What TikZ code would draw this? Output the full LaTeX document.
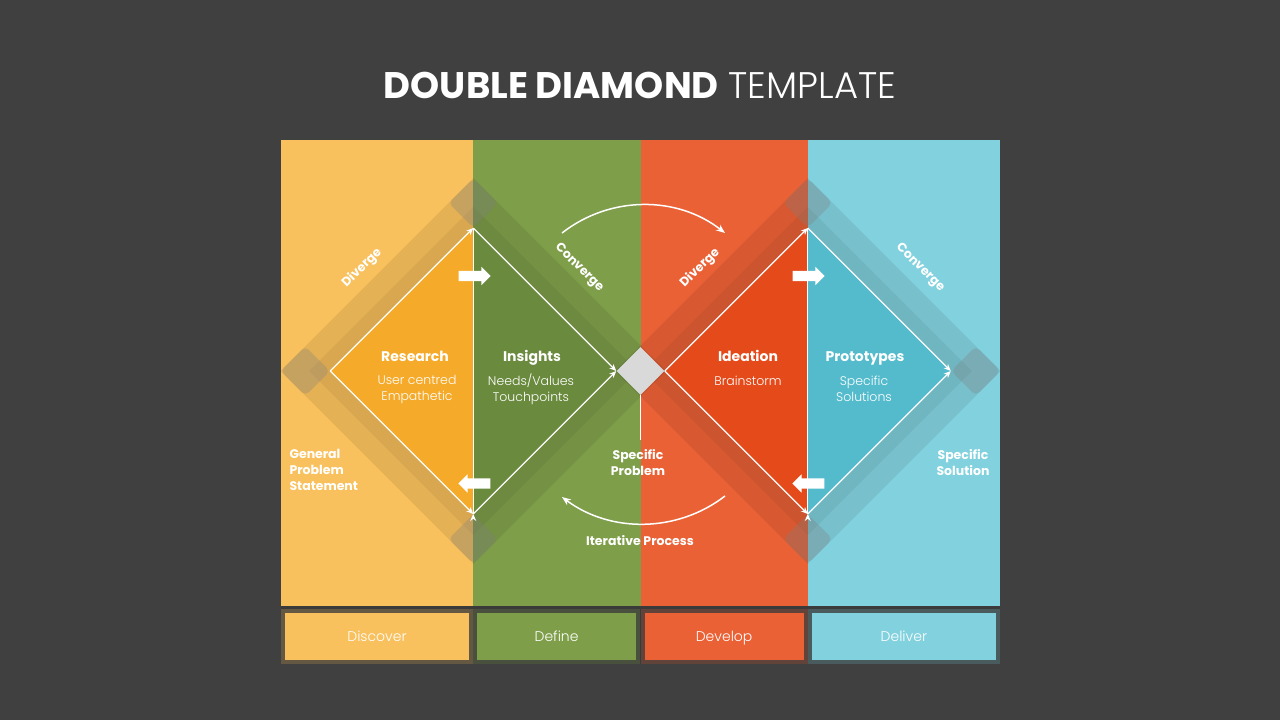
\documentclass[tikz,border=0pt]{standalone}
\usepackage{fontspec}
\setmainfont{Poppins}
\newfontfamily\thinfont{Poppins Light}
\usepackage{xcolor}
\usepackage{tikz}
\usetikzlibrary{positioning}
\usetikzlibrary{shapes.geometric, shapes.arrows, arrows.meta}

\definecolor{slate}{HTML}{404040}
\definecolor{barbg}{HTML}{3A3A3A}
\definecolor{discoverC}{HTML}{F9C15D}
\definecolor{defineC}{HTML}{7E9E4A}
\definecolor{developC}{HTML}{EB6136}
\definecolor{deliverC}{HTML}{82D1DE}
\definecolor{discoverIn}{HTML}{F5AA2A}
\definecolor{defineIn}{HTML}{6A8A3E}
\definecolor{developIn}{HTML}{E54B1A}
\definecolor{deliverIn}{HTML}{54BBCD}
\definecolor{hubgray}{HTML}{D9D9D9}

\tikzstyle{band} = [line width=35pt, draw=black, draw opacity=.08, line join=miter]
\tikzstyle{bandin} = [line width=15pt, draw=black, draw opacity=.05, line join=miter]
\tikzstyle{knob} = [shape=rectangle, rotate=45, minimum size=35pt, rounded corners=5pt, fill=gray, fill opacity=.3, inner sep=0pt]
\tikzstyle{flow} = [draw=white, line width=1.3pt, -{Stealth[length=7pt,width=6pt]}]
\tikzstyle{loopback} = [draw=white, line width=1.5pt, -{Stealth[length=9pt,width=7pt]}]
\tikzstyle{push} = [single arrow, fill=white, minimum height=32pt, inner sep=5pt, single arrow head extend=4pt]
\tikzstyle{cell} = [shape=rectangle, minimum height=51pt, line width=4pt, inner sep=0pt, text height=12pt, text depth=1pt, text=white, font=\thinfont\fontsize{14}{16}\selectfont]
\tikzstyle{stage} = [text=white, text height=10pt, text depth=3pt, font=\bfseries\fontsize{14}{16}\selectfont]
\tikzstyle{note} = [text=white, align=center, font=\thinfont\fontsize{12.5}{16}\selectfont]
\tikzstyle{tag} = [text=white, font=\bfseries\fontsize{12.5}{16}\selectfont]

\begin{document}
\begin{tikzpicture}[x=1pt, y=-1pt]
        \fill[slate] (0,0) rectangle (1280,720);
        \useasboundingbox (0,0) rectangle (1280,720);

        \node[text=white, font=\fontsize{37}{44}\selectfont] (title) at (640,85) {\textbf{DOUBLE DIAMOND} {\thinfont TEMPLATE}};

        % four columns
        \fill[discoverC] (281,140) rectangle (473.25,606);
        \fill[defineC] (473.25,140) rectangle (640.5,606);
        \fill[developC] (640.5,140) rectangle (807.75,606);
        \fill[deliverC] (807.75,140) rectangle (1000,606);

        % diamond corners
        \coordinate (LW) at (330.25,371);
        \coordinate (LN) at (473.25,228);
        \coordinate (LE) at (616.25,371);
        \coordinate (LS) at (473.25,514);
        \coordinate (RW) at (664.75,371);
        \coordinate (RN) at (807.75,228);
        \coordinate (RE) at (950.75,371);
        \coordinate (RS) at (807.75,514);

        \fill[discoverIn] (LW) -- (LN) -- (LS) -- cycle;
        \fill[defineIn] (LN) -- (LE) -- (LS) -- cycle;
        \fill[developIn] (RW) -- (RN) -- (RS) -- cycle;
        \fill[deliverIn] (RN) -- (RE) -- (RS) -- cycle;

        % translucent frames
        \draw[band] (305.25,371) -- (473.25,203) -- (641.25,371) -- (473.25,539) -- cycle;
        \draw[band] (639.75,371) -- (807.75,203) -- (975.75,371) -- (807.75,539) -- cycle;
        \draw[bandin] (319.75,371) -- (473.25,217.5) -- (626.75,371) -- (473.25,524.5) -- cycle;
        \draw[bandin] (654.25,371) -- (807.75,217.5) -- (961.25,371) -- (807.75,524.5) -- cycle;

        \node[knob] (kLW) at (305.25,371) {};
        \node[knob] (kLN) at (473.25,203) {};
        \node[knob] (kLS) at (473.25,539) {};
        \node[knob] (kRN) at (807.75,203) {};
        \node[knob] (kRE) at (975.75,371) {};
        \node[knob] (kRS) at (807.75,539) {};

        \node[shape=diamond, fill=hubgray, minimum size=48pt, inner sep=0pt] (hub) at (640.5,371) {};

        % white paths
        \draw[white, line width=1.3pt] (LN) -- (LS);
        \draw[white, line width=1.3pt] (RN) -- (RS);
        \path[flow] (LW) edge (LN) (LW) edge (LS) (LN) edge (LE) (LS) edge (LE);
        \path[flow] (RW) edge (RN) (RW) edge (RS) (RN) edge (RE) (RS) edge (RE);
        \coordinate (probTop) at (640.5,440);
        \draw[white, line width=1.3pt] (hub.south) -- (probTop);

        \node[push] (fwdL) at (472,276) {};
        \node[push] (fwdR) at (806,276) {};
        \node[push, shape border rotate=180] (backL) at (477,483.5) {};
        \node[push, shape border rotate=180] (backR) at (811,483.5) {};

        % iteration loop
        \coordinate (itA) at (562,233);
        \coordinate (itB) at (725,233);
        \coordinate (itC) at (725,496);
        \coordinate (itD) at (562,497);
        \draw[loopback] (itA) .. controls (610,195.5) and (677,195.5) .. (itB);
        \draw[loopback] (itC) .. controls (677,533) and (610,533) .. (itD);

        \node[stage] (research) at (415,358) {Research};
        \node[note] (researchNote) at (417,389) {User centred\\Empathetic};
        \node[stage] (insights) at (532,358) {Insights};
        \node[note] (insightsNote) at (531,389) {Needs/Values\\Touchpoints};
        \node[stage] (ideation) at (748,358) {Ideation};
        \node[note] (ideationNote) at (748,381) {Brainstorm};
        \node[stage] (prototypes) at (865,358) {Prototypes};
        \node[note] (prototypesNote) at (864,389) {Specific\\Solutions};

        \node[tag, rotate=45] (divL) at (362,268) {Diverge};
        \node[tag, rotate=-45] (convL) at (579,268) {Converge};
        \node[tag, rotate=45] (divR) at (700,268) {Diverge};
        \node[tag, rotate=-45] (convR) at (920,268) {Converge};

        \node[tag, anchor=west, align=left] (general) at (286,470) {General\\Problem\\Statement};
        \node[tag, align=center] (specProb) at (638,462.5) {Specific\\Problem};
        \node[tag, align=center] (specSol) at (963,462.5) {Specific\\Solution};
        \node[tag] (iter) at (640,541) {Iterative Process};

        % phase bar
        \fill[barbg] (281,606) rectangle (1000,664);
        \node[cell, minimum width=188pt, fill=discoverC, draw=discoverC!22!barbg] (discover) at (377,636) {Discover};
        \node[cell, minimum width=163pt, fill=defineC, draw=defineC!22!barbg] (define) at (556.6,636) {Define};
        \node[cell, minimum width=163pt, fill=developC, draw=developC!22!barbg] (develop) at (724.1,636) {Develop};
        \node[cell, minimum width=188pt, fill=deliverC, draw=deliverC!22!barbg] (deliver) at (903.9,636) {Deliver};
\end{tikzpicture}
\end{document}
